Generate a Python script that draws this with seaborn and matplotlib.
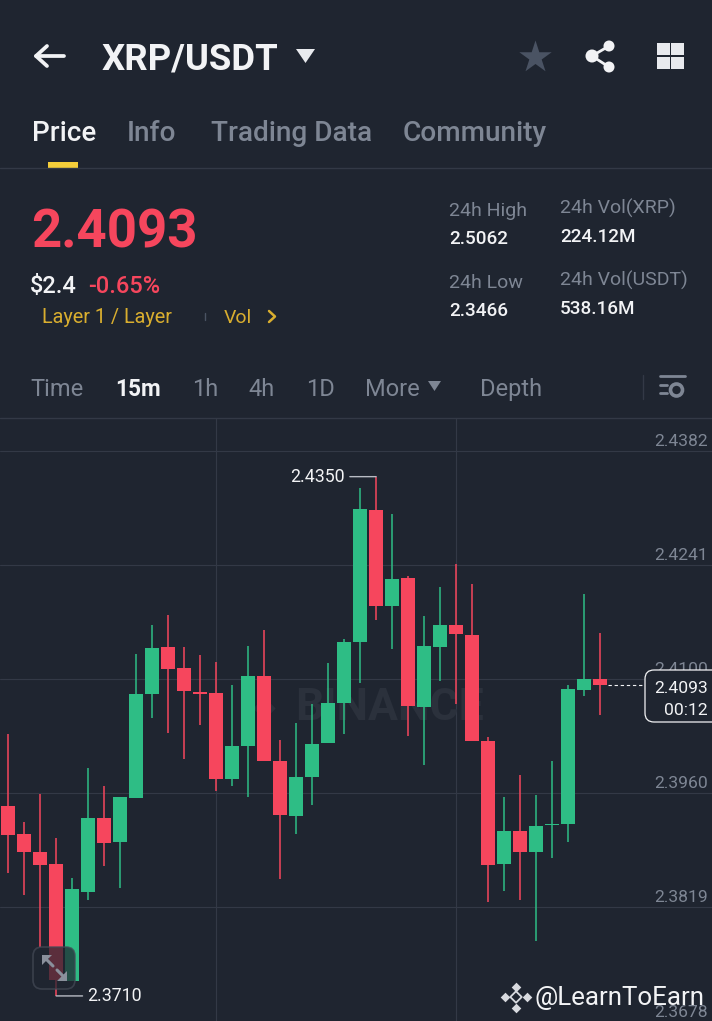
import matplotlib
matplotlib.use("Agg")
import matplotlib.pyplot as plt
from matplotlib.patches import FancyBboxPatch, Rectangle, Polygon, Circle
from matplotlib.transforms import ScaledTranslation
import numpy as np
import pandas as pd
import seaborn as sns

# candles, oldest first
opens = [2.39440, 2.39095, 2.38877, 2.38722, 2.37287, 2.38380, 2.39289, 2.38996, 2.39539, 2.40817,
         2.41396, 2.41138, 2.40845, 2.40837, 2.39769, 2.40183, 2.41046, 2.39999, 2.39321, 2.39801,
         2.40220, 2.40714, 2.41462, 2.43089, 2.41902, 2.42247, 2.40664, 2.41404, 2.41667, 2.41548,
         2.40245, 2.38729, 2.39128, 2.38877, 2.39206, 2.39222, 2.40870, 2.41009]
closes = [2.39086, 2.38877, 2.38717, 2.37296, 2.38417, 2.39289, 2.38988, 2.39547, 2.40817, 2.41388,
          2.41129, 2.40858, 2.40827, 2.39769, 2.40183, 2.41046, 2.39999, 2.39329, 2.39794, 2.40204,
          2.40706, 2.41465, 2.43097, 2.41902, 2.42238, 2.40673, 2.41412, 2.41667, 2.41560, 2.40245,
          2.38717, 2.39128, 2.38873, 2.39194, 2.39225, 2.40879, 2.41009, 2.40930]
highs = [2.40328, 2.39247, 2.39588, 2.39046, 2.38556, 2.39905, 2.39687, 2.39555, 2.41314, 2.41667,
         2.41795, 2.41396, 2.41298, 2.41215, 2.40928, 2.41416, 2.41610, 2.40254, 2.40467, 2.40697,
         2.41199, 2.41495, 2.43356, 2.43500, 2.43036, 2.42275, 2.41782, 2.42143, 2.42419, 2.42177,
         2.40287, 2.39555, 2.39826, 2.39576, 2.39999, 2.40932, 2.42049, 2.41576]
lows = [2.38614, 2.38343, 2.37702, 2.37100, 2.37287, 2.38282, 2.38704, 2.38433, 2.39539, 2.40521,
        2.40336, 2.40016, 2.40439, 2.39629, 2.39690, 2.39547, 2.39999, 2.38540, 2.39095, 2.39456,
        2.40220, 2.40328, 2.40960, 2.41733, 2.41372, 2.40303, 2.39946, 2.40981, 2.40697, 2.40245,
        2.38253, 2.38396, 2.38282, 2.37776, 2.38799, 2.39000, 2.40800, 2.40566]

price_ticks = [2.4382, 2.4241, 2.4100, 2.3960, 2.3819, 2.3678]
price_labels = ["2.4382", "2.4241", "2.4100", "2.3960", "2.3819", "2.3678"]
last_price = 2.4093
countdown = "00:12"

tabs = ["Price", "Info", "Trading Data", "Community"]
intervals = ["Time", "15m", "1h", "4h", "1D", "More", "Depth"]
stats = [("24h High", "2.5062"), ("24h Low", "2.3466"), ("24h Vol(XRP)", "224.12M"), ("24h Vol(USDT)", "538.16M")]

BG = "#1F2530"
GRID = "#333946"
GREEN = "#2EBD85"
RED = "#F6465D"
GREY = "#7E8694"
YELLOW = "#D9AE2F"
WHITE = "#F2F3F5"

sns.set_theme(style="dark", rc={"axes.facecolor": BG, "figure.facecolor": BG})
plt.rcParams["font.family"] = "Roboto"

W, H = 712, 1021
fig = plt.figure(figsize=(W / 100, H / 100), dpi=100)

df = pd.DataFrame({"i": np.arange(len(opens)), "open": opens, "close": closes, "high": highs, "low": lows})
df["body_low"] = df[["open", "close"]].min(axis=1)
df["body"] = (df["open"] - df["close"]).abs()
df["up"] = df["close"] >= df["open"]

# chart axes, runs a little past the bottom so the last gridline falls off the edge
ax = fig.add_axes([0, (H - 1024) / H, 1, (1024 - 418) / H])
up = df[df["up"]]
down = df[~df["up"]]
sns.barplot(data=up, x="i", y="body", bottom=up["body_low"].values, native_scale=True, color=GREEN,
            saturation=1, width=0.875, errorbar=None, linewidth=0, ax=ax, zorder=3)
sns.barplot(data=down, x="i", y="body", bottom=down["body_low"].values, native_scale=True, color=RED,
            saturation=1, width=0.875, errorbar=None, linewidth=0, ax=ax, zorder=3)
ax.vlines(up["i"], up["low"], up["high"], color=GREEN, lw=1.1, zorder=2)
ax.vlines(down["i"], down["low"], down["high"], color=RED, lw=1.1, zorder=2)

ax.set_xlim(-0.5125, 43.99)
ax.set_ylim(2.36754, 2.44223)
ax.set_xlabel("")
ax.set_ylabel("")
ax.set_xticks([13, 28])
ax.set_yticks(price_ticks)
ax.set_yticklabels(price_labels)
ax.tick_params(axis="x", length=0, labelbottom=False)
ax.tick_params(axis="y", length=0, labelleft=False, labelright=True, pad=-3, labelcolor=GREY, labelsize=12.6)
for tick in ax.yaxis.get_major_ticks():
    tick.label2.set_ha("right")
    tick.label2.set_va("bottom")
    tick.label2.set_transform(tick.label2.get_transform() + ScaledTranslation(0, 1.5 / 72, fig.dpi_scale_trans))
ax.grid(True, color=GRID, lw=0.8)
ax.set_axisbelow(True)
sns.despine(ax=ax, left=True, right=True, top=True, bottom=True)

# high / low callouts
i_hi = int(np.argmax(highs))
i_lo = int(np.argmin(lows))
ax.annotate(f"{highs[i_hi]:.4f}", xy=(i_hi, highs[i_hi]), xytext=(-31, 0), textcoords="offset pixels",
            ha="right", va="center", color=WHITE, fontsize=12.8,
            arrowprops=dict(arrowstyle="-", color="#B8BCC4", lw=1, shrinkA=1, shrinkB=0))
ax.annotate(f"{lows[i_lo]:.4f}", xy=(i_lo, lows[i_lo]), xytext=(31, 0), textcoords="offset pixels",
            ha="left", va="center", color=WHITE, fontsize=12.8,
            arrowprops=dict(arrowstyle="-", color="#B8BCC4", lw=1, shrinkA=1, shrinkB=0))
ax.axhline(last_price, xmin=608 / W, xmax=645 / W, color=WHITE, lw=0.8, ls=(0, (3, 2.5)), zorder=2)

# watermark sits behind the candles
ax.text(295 / 16 - 0.5125, 2.4065, "BINANCE", color="#2B313C", fontsize=32, fontweight="bold",
        va="center", ha="left", zorder=1)
ax.scatter([16.0], [2.4065], marker="D", s=110, color="#2B313C", zorder=1)

# overlay in pixel coordinates for the app furniture
ui = fig.add_axes([0, 0, 1, 1], zorder=5)
ui.set_xlim(0, W)
ui.set_ylim(H, 0)
ui.axis("off")
ui.patch.set_alpha(0)


def label(x, y, s, color=WHITE, size=12, weight="normal", ha="left"):
    ui.text(x, y + 1.5, s, color=color, fontsize=size, fontweight=weight, ha=ha, va="center")


# header
ui.plot([36, 64], [56, 56], color=WHITE, lw=2.7, solid_capstyle="round")
ui.plot([47, 36, 47], [46, 56, 66], color=WHITE, lw=2.7, solid_capstyle="round", solid_joinstyle="round")
label(102, 58, "XRP/USDT", size=26.3, weight="bold")
ui.add_patch(Polygon([(296, 49), (315, 49), (305.5, 63)], color="#E8EAEE", lw=0))
ui.scatter([535], [57], marker="*", s=600, color="#4A5363", linewidths=0)
ui.plot([609, 592, 609], [46, 56, 67], color=WHITE, lw=2)
for cx, cy, r in [(609, 46, 5.5), (592, 56, 6.5), (609, 67, 5.5)]:
    ui.add_patch(Circle((cx, cy), r, color=WHITE, lw=0))
for rx, ry in [(657, 43), (671, 43), (657, 57), (671, 57)]:
    ui.add_patch(Rectangle((rx, ry), 12.5, 12.5, color="#E8EAEE", lw=0))

# tabs
tab_x = [32, 127, 211, 403]
for x, s in zip(tab_x, tabs):
    if s == "Price":
        label(x, 132, s, size=20, weight="medium")
    else:
        label(x, 132, s, color=GREY, size=20.2, weight="medium")
ui.add_patch(Rectangle((48, 162), 30, 6, color="#F5CE3A", lw=0))
ui.plot([0, W], [168.5, 168.5], color=GRID, lw=1)

# price block
label(31, 231, "2.4093", color=RED, size=38, weight="bold")
label(30, 285, "$2.4", size=17, weight="medium")
label(88, 285, "-0.65%", color=RED, size=17, weight="medium")
label(42, 316, "Layer 1 / Layer", color=YELLOW, size=14.3)
ui.plot([204.5, 204.5], [313, 320], color="#4A5363", lw=1)
label(224, 316, "Vol", color=YELLOW, size=14)
ui.plot([269, 275, 269], [311, 316.5, 322], color=YELLOW, lw=1.8)

stat_pos = [(449, 209, 237), (449, 281, 309), (560, 207, 235), (560, 279, 307)]
for (name, val), (x, y1, y2) in zip(stats, stat_pos):
    label(x, y1, name, color=GREY, size=14)
    label(x, y2, val, size=13.6, weight="medium")

# interval row
interval_x = [30, 115, 192, 248, 306, 365, 480]
for x, s in zip(interval_x, intervals):
    if s == "15m":
        label(x, 388, s, size=16.3, weight="bold")
    else:
        label(x, 388, s, color=GREY, size=17)
ui.add_patch(Polygon([(428, 381), (441, 381), (434.5, 391)], color=GREY, lw=0))
ui.plot([643, 643], [375, 399], color=GRID, lw=1)
ui.plot([660, 685], [376, 376], color=GREY, lw=2)
ui.plot([660, 667], [385, 385], color=GREY, lw=2)
ui.plot([660, 667], [393, 393], color=GREY, lw=2)
ui.add_patch(Circle((676.5, 390), 6, fill=False, ec=GREY, lw=2.6))
ui.plot([0, W], [417.5, 417.5], color=GRID, lw=1)

# last price tag
ui.add_patch(FancyBboxPatch((645, 670), 90, 52, boxstyle="round,pad=0,rounding_size=9",
                            fc=BG, ec=WHITE, lw=0.9, zorder=3))
ui.text(708, 688, f"{last_price:.4f}", color=WHITE, fontsize=12.6, ha="right", va="center", zorder=4)
ui.text(708, 710, countdown, color=WHITE, fontsize=12.6, ha="right", va="center", zorder=4)

# expand button
ui.add_patch(FancyBboxPatch((33, 947), 42, 42, boxstyle="round,pad=0,rounding_size=9",
                            fc=BG, ec="#444A56", lw=1.2, alpha=0.72))
ui.plot([45, 53], [958, 966], color="#8A909C", lw=2.2)
ui.plot([57, 65], [970, 978], color="#8A909C", lw=2.2)
ui.add_patch(Polygon([(42, 955), (52, 955), (42, 965)], color="#8A909C", lw=0))
ui.add_patch(Polygon([(67, 981), (57, 981), (67, 971)], color="#8A909C", lw=0))

# source mark
mark_x = [516, 505, 527, 516]
mark_y = [986.5, 997, 997, 1007.5]
ui.scatter(mark_x, mark_y, marker="D", s=24, color="#D8DADF", linewidths=0)
ui.scatter([516], [997], marker="D", s=34, facecolors="none", edgecolors="#D8DADF", linewidths=1.3)
label(534, 996, "@LearnToEarn", size=18.6)

fig.savefig("out.png", dpi=100, facecolor=BG)
